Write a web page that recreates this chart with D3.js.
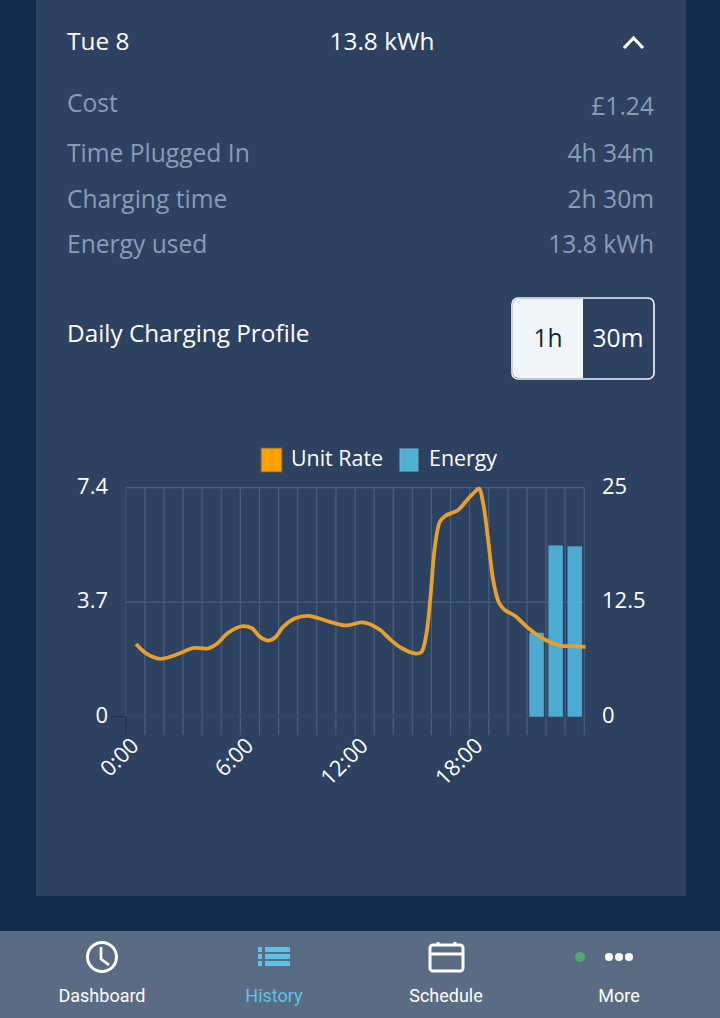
<!DOCTYPE html>
<html>
<head>
<meta charset="utf-8">
<script src="https://cdn.jsdelivr.net/npm/d3@7"></script>
<style>
  html, body { margin: 0; padding: 0; background: #112c4d; }
  svg { display: block; }
  text { font-family: "Open Sans", sans-serif; }
  .nav { font-family: Roboto, sans-serif; font-size: 18px; text-anchor: middle; }
  .axis text { fill: #fff; font-size: 22px; }
  .axis path { display: none; }
</style>
</head>
<body>
<svg id="chart" width="720" height="1018"></svg>
<script>
// chart data
const hours = d3.range(0, 25);
const timeLabels = { 0: "0:00", 6: "6:00", 12: "12:00", 18: "18:00" };
const rateTicks = [0, 3.7, 7.4];
const energyTicks = [0, 12.5, 25];
const energyHours = [21, 22, 23];
const energyValues = [9.17, 18.7, 18.6];
const rateHours = [0.54, 1.13, 1.8, 2.5, 3.05, 3.54, 4.33, 4.76, 5.38, 6.07, 6.6, 7.03, 7.47, 7.82, 8.25, 8.87, 9.56, 10.09, 10.87, 11.57, 12.36, 12.79, 13.32, 13.82, 14.43, 15.2, 15.48, 15.74, 15.95, 16.18, 16.44, 16.7, 17.4, 17.93, 18.36, 18.5, 18.71, 18.97, 19.23, 19.55, 19.84, 20.37, 20.98, 21.68, 22.29, 22.82, 23.43, 24.07];
const rateValues = [2.35, 2.02, 1.87, 1.97, 2.11, 2.22, 2.21, 2.35, 2.72, 2.92, 2.86, 2.58, 2.46, 2.56, 2.91, 3.18, 3.26, 3.18, 3.03, 2.95, 3.05, 2.99, 2.8, 2.51, 2.22, 2.04, 2.09, 2.69, 3.88, 5.49, 6.3, 6.48, 6.68, 7.05, 7.32, 7.37, 6.89, 5.71, 4.42, 3.66, 3.45, 3.26, 2.91, 2.58, 2.39, 2.29, 2.28, 2.25];

// text rows above the chart
const rowLabels = ["Cost", "Time Plugged In", "Charging time", "Energy used"];
const rowValues = ["£1.24", "4h 34m", "2h 30m", "13.8 kWh"];
const rowLabelY = [111.5, 162, 208, 253];
const rowValueY = [114.5, 162, 208, 253];

const navLabels = ["Dashboard", "History", "Schedule", "More"];
const navX = [102, 274, 446, 619];

const svg = d3.select("#chart");

svg.append("rect").attr("x", 36).attr("y", 0).attr("width", 650).attr("height", 896).attr("fill", "#2c4260");

// header
svg.append("text").attr("x", 67).attr("y", 50).attr("fill", "#fff").attr("font-size", 24.4).text("Tue 8");
svg.append("text").attr("x", 382).attr("y", 50).attr("fill", "#fff").attr("font-size", 24.4).attr("text-anchor", "middle").text("13.8 kWh");
svg.append("path").attr("d", "M624 48L633.5 38L643 48").attr("fill", "none").attr("stroke", "#fff").attr("stroke-width", 3.2);

svg.selectAll(".rowLabel").data(rowLabels).join("text")
  .attr("class", "rowLabel").attr("x", 67).attr("y", (d, i) => rowLabelY[i])
  .attr("fill", "#8a9bb8").attr("font-size", 24.6).text(d => d);
svg.selectAll(".rowValue").data(rowValues).join("text")
  .attr("class", "rowValue").attr("x", 654).attr("y", (d, i) => rowValueY[i])
  .attr("text-anchor", "end").attr("fill", "#8a9bb8").attr("font-size", 24.6).text(d => d);

svg.append("text").attr("x", 67).attr("y", 342).attr("fill", "#fff").attr("font-size", 24.3).text("Daily Charging Profile");

// 1h / 30m toggle
svg.append("rect").attr("x", 512).attr("y", 298).attr("width", 142).attr("height", 81).attr("rx", 6).attr("fill", "#2c4260").attr("stroke", "#f0f5f9").attr("stroke-width", 1.6);
svg.append("path").attr("d", "M583 299V378H518a5 5 0 0 1-5-5V304a5 5 0 0 1 5-5Z").attr("fill", "#f0f5f9");
svg.append("text").attr("x", 548).attr("y", 347).attr("text-anchor", "middle").attr("fill", "#10243c").attr("font-size", 24.6).text("1h");
svg.append("text").attr("x", 618).attr("y", 347).attr("text-anchor", "middle").attr("fill", "#fff").attr("font-size", 24.6).text("30m");

// legend
svg.append("rect").attr("x", 261).attr("y", 448).attr("width", 21).attr("height", 24).attr("fill", "#ff9f00").attr("stroke", "#6d6040");
svg.append("text").attr("x", 291).attr("y", 466).attr("fill", "#fff").attr("font-size", 21.4).text("Unit Rate");
svg.append("rect").attr("x", 400).attr("y", 449).attr("width", 18).attr("height", 22).attr("fill", "#4fb0d6").attr("stroke", "#6fb4d4");
svg.append("text").attr("x", 429).attr("y", 466).attr("fill", "#fff").attr("font-size", 21.4).text("Energy");

// chart
const x = d3.scaleLinear().domain([0, 24]).range([125.7, 584.3]);
const band = d3.scaleBand().domain(d3.range(24)).range([125.7, 584.3]).paddingInner(0.24).paddingOuter(0.12);
const yRate = d3.scaleLinear().domain([0, 7.4]).range([716.7, 487.7]);
const yEnergy = d3.scaleLinear().domain([0, 25]).range([716.7, 487.7]);
const gridBottom = 735;
const gridColor = "#4a5f7d";

svg.append("g").selectAll("line").data(hours).join("line")
  .attr("x1", d => x(d)).attr("x2", d => x(d))
  .attr("y1", yRate(7.4)).attr("y2", d => d === 0 ? yRate(0) : gridBottom)
  .attr("stroke", d => d === 0 ? "#3d5271" : gridColor).attr("stroke-width", 1.2);

svg.append("g").selectAll("line").data(rateTicks).join("line")
  .attr("x1", x(0)).attr("x2", x(24))
  .attr("y1", d => yRate(d)).attr("y2", d => yRate(d))
  .attr("stroke", d => d === 0 ? "#344965" : gridColor).attr("stroke-width", 1.2);

// small dark ticks at the origin
svg.append("path").attr("d", `M110 ${yRate(0)}H${x(0)}V${gridBottom}`).attr("fill", "none").attr("stroke", "#1d3350").attr("stroke-width", 1.2);

svg.append("g").selectAll("rect").data(energyValues).join("rect")
  .attr("x", (d, i) => band(energyHours[i]))
  .attr("y", d => yEnergy(d))
  .attr("width", band.bandwidth())
  .attr("height", d => yEnergy(0) - yEnergy(d))
  .attr("fill", "#4fb0d6").attr("fill-opacity", 0.95);

const rateLine = d3.line()
  .x((d, i) => x(rateHours[i]))
  .y(d => yRate(d))
  .curve(d3.curveCatmullRom.alpha(0.5));
svg.append("path").datum(rateValues)
  .attr("d", rateLine)
  .attr("fill", "none").attr("stroke", "#e8a02c").attr("stroke-width", 3.8);

// axes
svg.append("g").attr("class", "axis").attr("transform", "translate(108,-1.5)")
  .call(d3.axisLeft(yRate).tickValues(rateTicks).tickSize(0).tickPadding(0).tickFormat(d => d));
svg.append("g").attr("class", "axis").attr("transform", "translate(602,-1.5)")
  .call(d3.axisRight(yEnergy).tickValues(energyTicks).tickSize(0).tickPadding(0).tickFormat(d => d));
const timeAxis = svg.append("g").attr("class", "axis").attr("transform", `translate(0,${gridBottom})`)
  .call(d3.axisBottom(x).tickValues([0, 6, 12, 18]).tickSize(0).tickFormat(d => timeLabels[d]));
timeAxis.selectAll("text")
  .attr("text-anchor", "end")
  .attr("dy", 0).attr("y", 0)
  .attr("transform", "translate(14,12) rotate(-45)");

// bottom nav
svg.append("rect").attr("x", 0).attr("y", 931).attr("width", 720).attr("height", 87).attr("fill", "#5a6c83");
svg.selectAll(".nav").data(navLabels).join("text")
  .attr("class", "nav").attr("x", (d, i) => navX[i]).attr("y", 1002)
  .attr("fill", d => d === "History" ? "#5fc1e8" : "#fff").text(d => d);

const clock = svg.append("g").attr("fill", "none").attr("stroke", "#fff").attr("stroke-width", 3);
clock.append("circle").attr("cx", 102).attr("cy", 957).attr("r", 14.5);
clock.append("path").attr("d", "M101 947V959L109 965").attr("stroke-width", 2.6);

const list = svg.append("g").attr("fill", "#5fc1e8");
[950, 957, 964].forEach(cy => {
  list.append("rect").attr("x", 258).attr("y", cy - 3).attr("width", 4).attr("height", 5);
  list.append("rect").attr("x", 265).attr("y", cy - 3).attr("width", 25).attr("height", 5);
});

const cal = svg.append("g").attr("fill", "none").attr("stroke", "#fff").attr("stroke-width", 3);
cal.append("rect").attr("x", 430).attr("y", 945).attr("width", 33).attr("height", 26).attr("rx", 3);
cal.append("path").attr("d", "M430 954H463");
cal.append("path").attr("d", "M438 942V946M455 942V946").attr("stroke-width", 3);

svg.append("circle").attr("cx", 580).attr("cy", 957).attr("r", 5).attr("fill", "#4fa971");
svg.append("g").selectAll("circle").data([609, 619, 629]).join("circle")
  .attr("cx", d => d).attr("cy", 957).attr("r", 4).attr("fill", "#fff");
</script>
</body>
</html>
